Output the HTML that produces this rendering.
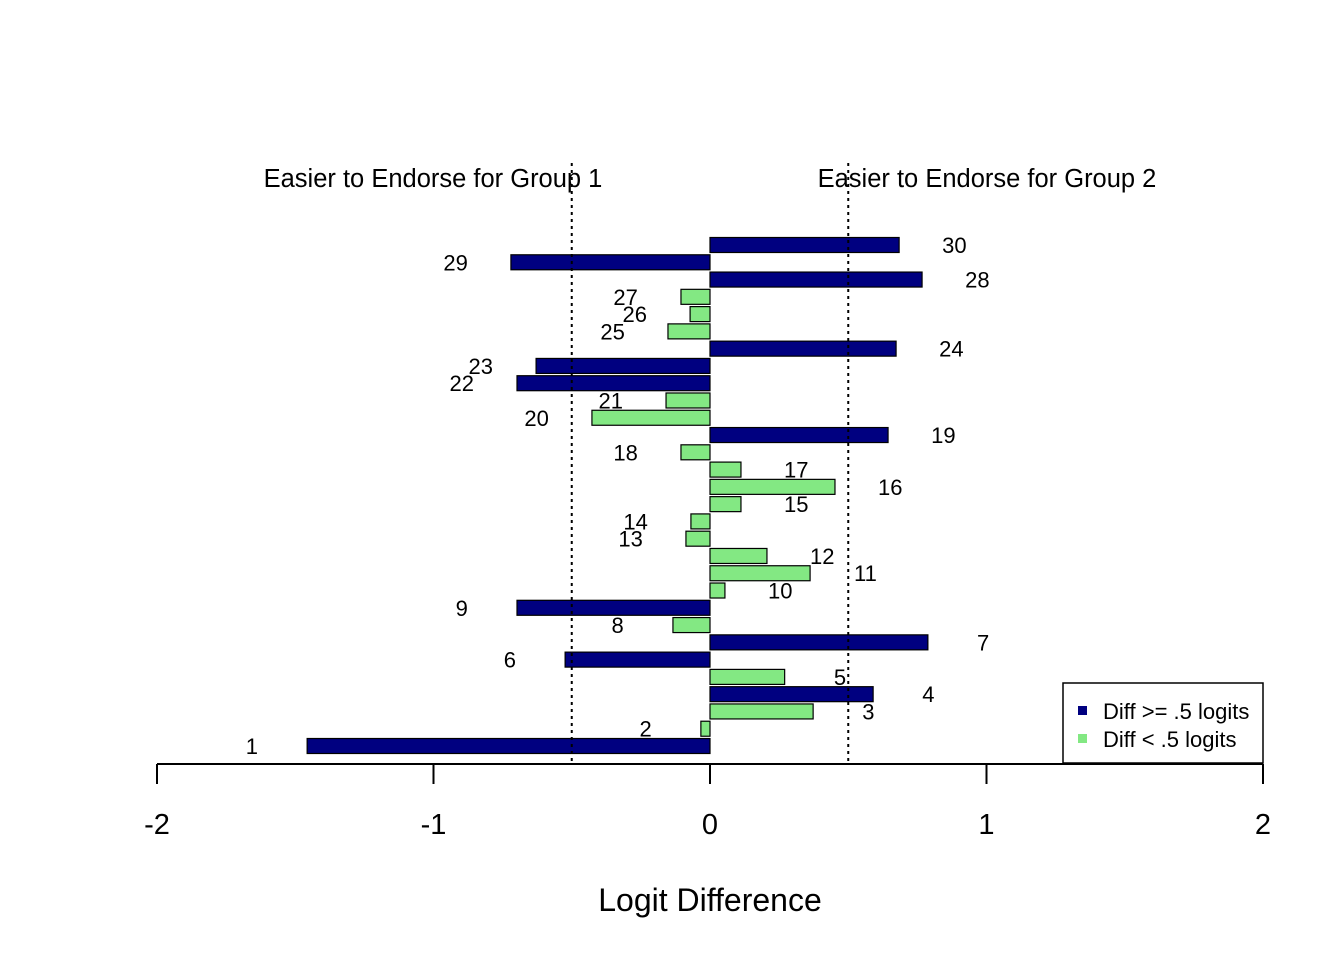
<!DOCTYPE html>
<html><head><meta charset="utf-8"><style>body{margin:0;background:#fff}svg{display:block}text{font-family:"Liberation Sans",Arial,sans-serif;fill:#000}</style></head>
<body>
<svg id="chart" width="1344" height="960">
<g id="bars"></g>
<g id="labels"></g>
<line x1="571.75" y1="163" x2="571.75" y2="763" stroke="#000" stroke-width="2" stroke-dasharray="3,4"/>
<line x1="848.25" y1="163" x2="848.25" y2="763" stroke="#000" stroke-width="2" stroke-dasharray="3,4"/>
<text x="433" y="187" font-size="25.5" text-anchor="middle">Easier to Endorse for Group 1</text>
<text x="987" y="187" font-size="25.5" text-anchor="middle">Easier to Endorse for Group 2</text>
<g id="axis"></g>
<text x="710" y="911" font-size="32" text-anchor="middle">Logit Difference</text>
<g>
<rect x="1063" y="683" width="200" height="80" fill="#fff" stroke="#000" stroke-width="1.5"/>
<rect x="1078" y="706" width="9" height="9" fill="#000080"/>
<text x="1103" y="719" font-size="22">Diff &gt;= .5 logits</text>
<rect x="1078" y="734" width="9" height="9" fill="#83e883"/>
<text x="1103" y="747" font-size="22">Diff &lt; .5 logits</text>
</g>
</svg>
<script>
const items=[1,2,3,4,5,6,7,8,9,10,11,12,13,14,15,16,17,18,19,20,21,22,23,24,25,26,27,28,29,30];
const diffs=[-1.457,-0.033,0.373,0.59,0.27,-0.524,0.788,-0.134,-0.698,0.054,0.362,0.206,-0.087,-0.069,0.112,0.452,0.112,-0.105,0.644,-0.427,-0.159,-0.698,-0.629,0.673,-0.152,-0.072,-0.105,0.767,-0.72,0.684];
const ticks=[-2,-1,0,1,2];
const NS='http://www.w3.org/2000/svg';
const xs=v=>710+v*276.5;
const ys=i=>746-(i-1)*(501/29);
const bars=document.getElementById('bars'),labels=document.getElementById('labels'),axis=document.getElementById('axis');
items.forEach((it,k)=>{const v=diffs[k];const r=document.createElementNS(NS,'rect');
r.setAttribute('x',Math.min(xs(0),xs(v)));r.setAttribute('width',Math.abs(xs(v)-xs(0)));
r.setAttribute('y',ys(it)-7.5);r.setAttribute('height',15);
r.setAttribute('fill',Math.abs(v)>=0.5?'#000080':'#83e883');r.setAttribute('stroke','#000');r.setAttribute('stroke-width','1.2');


bars.appendChild(r);
const t=document.createElementNS(NS,'text');t.setAttribute('x',xs(v+(v>=0?0.2:-0.2)));t.setAttribute('y',ys(it)+8);
t.setAttribute('font-size','22');t.setAttribute('text-anchor','middle');t.textContent=it;


labels.appendChild(t);});
const al=document.createElementNS(NS,'line');al.setAttribute('x1',xs(-2));al.setAttribute('x2',xs(2));al.setAttribute('y1',764);al.setAttribute('y2',764);al.setAttribute('stroke','#000');al.setAttribute('stroke-width','2');


axis.appendChild(al);
ticks.forEach(tv=>{const l=document.createElementNS(NS,'line');l.setAttribute('x1',xs(tv));l.setAttribute('x2',xs(tv));l.setAttribute('y1',764);l.setAttribute('y2',784);l.setAttribute('stroke','#000');l.setAttribute('stroke-width','2');


axis.appendChild(l);
const t=document.createElementNS(NS,'text');t.setAttribute('x',xs(tv));t.setAttribute('y',834);t.setAttribute('font-size','29');t.setAttribute('text-anchor','middle');t.textContent=tv;


axis.appendChild(t);});
</script>
</body></html>
